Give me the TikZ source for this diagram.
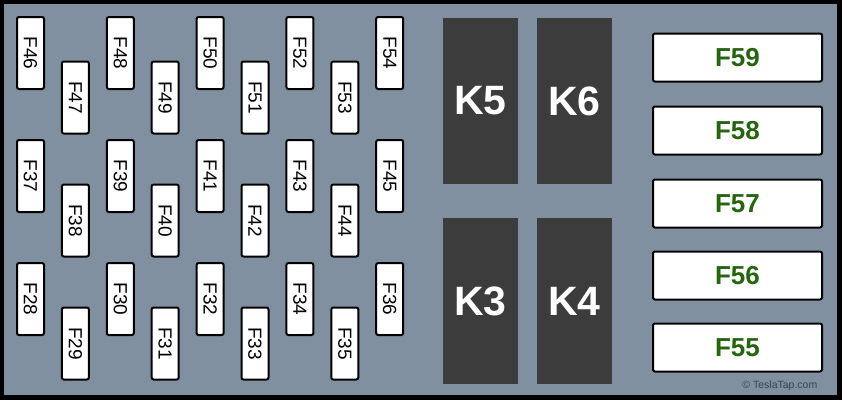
\documentclass[tikz,border=0pt]{standalone}
\usepackage{fontspec}
\setmainfont{Liberation Sans}
\definecolor{panel}{HTML}{8090A0}
\definecolor{relay}{HTML}{3C3C3C}
\definecolor{fgreen}{HTML}{266410}
\definecolor{copyc}{HTML}{3A4450}
\begin{document}
\begin{tikzpicture}[x=1pt,y=-1pt,
  fuse/.style={draw=black,line width=2pt,fill=white,rounded corners=2pt,rotate=-90,
    minimum width=72pt,minimum height=27pt,inner sep=0pt,
    font=\fontsize{19}{19}\selectfont},
  relaybox/.style={fill=relay,minimum width=75pt,minimum height=166pt,inner sep=0pt,
    text=white,font=\fontsize{41}{41}\selectfont\bfseries},
  bigfuse/.style={draw=black,line width=2pt,fill=white,rounded corners=2pt,
    minimum width=169pt,minimum height=48pt,inner sep=0pt,text=fgreen,
    font=\fontsize{26}{26}\selectfont\bfseries}]
\useasboundingbox (0,0) rectangle (842,400);
\fill[black] (0,0) rectangle (842,400);
\fill[panel] (4,4) rectangle (837,395);
% small fuses
\foreach \i in {0,...,8}{
  \pgfmathsetmacro{\xx}{30.5+44.9*\i}
  \pgfmathtruncatemacro{\odd}{mod(\i,2)}
  \pgfmathsetmacro{\dy}{\odd*44.5}
  \pgfmathtruncatemacro{\ta}{46+\i}
  \pgfmathtruncatemacro{\tb}{37+\i}
  \pgfmathtruncatemacro{\tc}{28+\i}
  \node[fuse] (F\ta) at (\xx,53+\dy) {F\ta};
  \node[fuse] (F\tb) at (\xx,176+\dy) {F\tb};
  \node[fuse] (F\tc) at (\xx,299+\dy) {F\tc};
}
% relays
\node[relaybox] (K5) at (480.5,101) {K5};
\node[relaybox] (K6) at (574.5,101) {K6};
\node[relaybox] (K3) at (480.5,301) {K3};
\node[relaybox] (K4) at (574.5,301) {K4};
% big fuses
\node[bigfuse] (F59) at (737.5,57.5) {F59};
\node[bigfuse] (F58) at (737.5,130.5) {F58};
\node[bigfuse] (F57) at (737.5,203.5) {F57};
\node[bigfuse] (F56) at (737.5,275.5) {F56};
\node[bigfuse] (F55) at (737.5,347.5) {F55};
\node[anchor=east,inner sep=0pt,text=copyc,font=\fontsize{10.5}{10.5}\selectfont] (copy) at (817.5,386) {© TeslaTap.com};
\end{tikzpicture}
\end{document}
